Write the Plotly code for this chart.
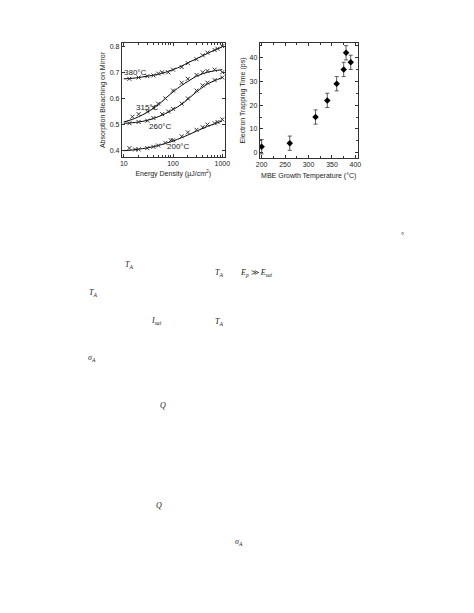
import math
import plotly.graph_objects as go

# left panel: absorption bleaching vs energy density (measured points + fits)
e_380 = [13, 20, 30, 40, 50, 60, 80, 100, 150, 200, 300, 400, 500, 700, 800, 1000]
a_380 = [0.675, 0.68, 0.685, 0.688, 0.695, 0.70, 0.70, 0.71, 0.72, 0.735, 0.75, 0.765, 0.775, 0.785, 0.79, 0.80]
e_315 = [15, 20, 30, 40, 50, 70, 100, 150, 200, 300, 400, 500, 700, 1000]
a_315 = [0.53, 0.54, 0.55, 0.565, 0.58, 0.60, 0.63, 0.66, 0.675, 0.69, 0.70, 0.705, 0.71, 0.70]
e_260 = [13, 20, 30, 40, 60, 80, 100, 150, 200, 300, 400, 500, 700, 1000]
a_260 = [0.505, 0.51, 0.515, 0.525, 0.54, 0.55, 0.56, 0.58, 0.60, 0.63, 0.65, 0.66, 0.67, 0.68]
e_200 = [13, 17, 20, 30, 40, 50, 70, 90, 100, 150, 200, 300, 400, 500, 700, 800, 1000]
a_200 = [0.41, 0.405, 0.405, 0.41, 0.415, 0.42, 0.43, 0.44, 0.44, 0.455, 0.47, 0.48, 0.49, 0.50, 0.505, 0.51, 0.52]

fit_e = [10, 15, 20, 30, 50, 70, 100, 150, 200, 300, 500, 700, 1000]
fit_380 = [0.675, 0.677, 0.68, 0.685, 0.692, 0.70, 0.71, 0.724, 0.736, 0.752, 0.772, 0.785, 0.797]
fit_315 = [0.51, 0.52, 0.53, 0.547, 0.575, 0.60, 0.625, 0.65, 0.665, 0.685, 0.70, 0.706, 0.71]
fit_260 = [0.505, 0.507, 0.51, 0.516, 0.53, 0.542, 0.557, 0.578, 0.597, 0.625, 0.655, 0.668, 0.68]
fit_200 = [0.40, 0.403, 0.406, 0.411, 0.42, 0.428, 0.437, 0.45, 0.46, 0.475, 0.493, 0.503, 0.514]

curve_names = ["380°C", "315°C", "260°C", "200°C"]

# right panel: trapping time vs growth temperature
temp = [200, 260, 315, 340, 360, 375, 380, 390]
trap = [2.5, 4, 15, 22, 29, 35, 42, 38]
trap_err = [3, 3, 3, 3, 3, 3, 3, 3]
temp_err = [3, 5, 5, 5, 5, 3, 3, 3]

# page body has an 8px margin; shrink the figure so the page is exactly the window size
PAD = 8
W, H = 474 - 2 * PAD, 613 - 2 * PAD


def px_x(p):
    return (p - PAD) / W


def px_y(p):
    return 1 - (p - PAD) / H


fig = go.Figure()

pts = [(e_380, a_380), (e_315, a_315), (e_260, a_260), (e_200, a_200)]
fits = [fit_380, fit_315, fit_260, fit_200]
for (ex, ay), fy in zip(pts, fits):
    fig.add_trace(go.Scatter(x=fit_e, y=fy, mode="lines", line=dict(color="black", width=1),
                             xaxis="x", yaxis="y", showlegend=False, line_shape="spline"))
    fig.add_trace(go.Scatter(x=ex, y=ay, mode="markers",
                             marker=dict(symbol="x-thin", size=4, line=dict(color="#333", width=1)),
                             xaxis="x", yaxis="y", showlegend=False))

fig.add_trace(go.Scatter(
    x=temp, y=trap, mode="markers", xaxis="x2", yaxis="y2", showlegend=False,
    marker=dict(symbol="diamond", size=5, color="black"),
    error_y=dict(type="data", array=trap_err, color="#333", thickness=0.8, width=2),
    error_x=dict(type="data", array=temp_err, color="#333", thickness=1, width=0),
))

font = dict(family="Liberation Sans, Arial", size=7, color="#222")
axis_common = dict(showline=True, linecolor="#333", linewidth=1, mirror="ticks", ticks="inside",
                   ticklen=3, tickcolor="#333", showgrid=False, zeroline=False,
                   tickfont=font, title_font=font)

fig.update_layout(
    width=W, height=H, margin=dict(l=0, r=0, t=0, b=0),
    paper_bgcolor="white", plot_bgcolor="white", font=font,
    xaxis=dict(axis_common, type="log", domain=[px_x(120), px_x(225)], range=[0.96, 3.05],
               tickvals=[10, 100, 1000], ticktext=["10", "100", "1000"],
               minor=dict(ticks="inside", ticklen=2, tickcolor="#333",
                          tickvals=[20, 30, 40, 50, 60, 70, 80, 90, 200, 300, 400, 500, 600, 700, 800, 900]),
               title=dict(text="Energy Density (µJ/cm<sup>2</sup>)", standoff=4), anchor="y"),
    yaxis=dict(axis_common, domain=[px_y(157), px_y(43)], range=[0.376, 0.812],
               tickvals=[0.4, 0.5, 0.6, 0.7, 0.8], ticktext=["0.4", "0.5", "0.6", "0.7", "0.8"],
               title=dict(text="Absorption Bleaching on Mirror", standoff=3), anchor="x"),
    xaxis2=dict(axis_common, domain=[px_x(260.7), px_x(360.7)], range=[196, 405],
                tickvals=[200, 250, 300, 350, 400],
                minor=dict(ticks="inside", ticklen=2, tickcolor="#333", dtick=25),
                title=dict(text="MBE Growth Temperature (°C)", standoff=6), anchor="y2"),
    yaxis2=dict(axis_common, domain=[px_y(157.7), px_y(43.3)], range=[-2.1, 46],
                tickvals=[0, 10, 20, 30, 40],
                minor=dict(ticks="inside", ticklen=2, tickcolor="#333", dtick=5),
                title=dict(text="Electron Trapping Time (ps)", standoff=3), anchor="x2"),
)

# curve labels in the left panel
label_pos = [(17, 0.698), (31, 0.564), (57, 0.491), (129, 0.418)]
for name, (lx, ly) in zip(curve_names, label_pos):
    fig.add_annotation(x=math.log10(lx), y=ly, xref="x", yref="y", text=name, showarrow=False,
                       font=dict(family="Liberation Sans, Arial", size=8, color="#222"))

# stray math symbols from the page text
serif = dict(family="Liberation Serif, DejaVu Serif", size=8, color="#222")
page_text = [
    ("°", 410, 235),
    ("<i>T<sub>A</sub></i>", 121, 265),
    ("<i>T<sub>A</sub></i>", 219, 273),
    ("<i>E<sub>p</sub></i> ≫ <i>E<sub>sat</sub></i>", 257, 273),
    ("<i>T<sub>A</sub></i>", 85, 293),
    ("<i>I<sub>sat</sub></i>", 148, 321),
    ("<i>T<sub>A</sub></i>", 219, 322),
    ("<i>σ<sub>A</sub></i>", 83, 358),
    ("<i>Q</i>", 157, 412),
    ("<i>Q</i>", 153, 512),
    ("<i>σ<sub>A</sub></i>", 240, 549),
]
for txt, tx, ty in page_text:
    fig.add_annotation(x=px_x(tx), y=px_y(ty), xref="paper", yref="paper", text=txt,
                       showarrow=False, font=serif)

fig.write_html("out.html")
